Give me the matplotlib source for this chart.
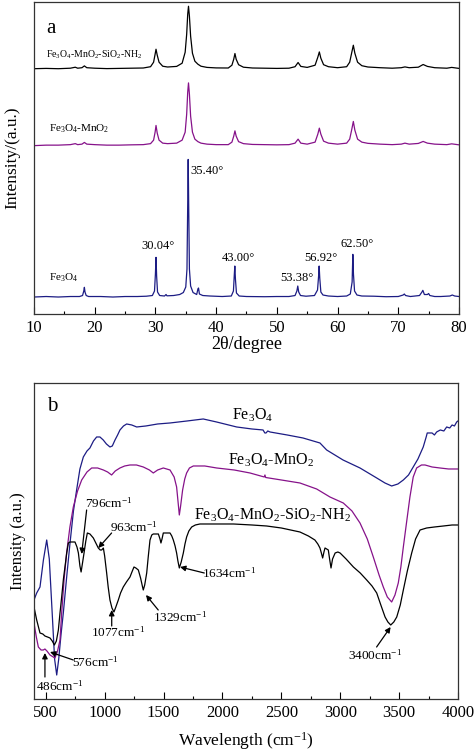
import matplotlib
matplotlib.use('Agg')
import matplotlib.pyplot as plt
from matplotlib.ticker import MultipleLocator

plt.rcParams['font.family'] = ['Liberation Serif', 'DejaVu Serif']
plt.rcParams['mathtext.fontset'] = 'custom'
plt.rcParams['mathtext.rm'] = 'Liberation Serif'
plt.rcParams['mathtext.it'] = 'Liberation Serif:italic'

# ---------------- XRD (a) ----------------
xrd_tt_fe = [10.0, 12, 14, 16, 17.5, 18.0, 18.2, 18.3, 18.4, 18.6, 19.0, 21, 23, 25, 27, 28.5, 29.5,
             29.85, 30.0, 30.1, 30.2, 30.35, 30.7, 31.5, 31.75, 31.9, 33, 34.0, 34.6, 35.0, 35.2,
             35.32, 35.4, 35.48, 35.6, 35.8, 36.2, 36.8, 37.0, 37.1, 37.25, 37.8, 39, 41, 42.5,
             42.85, 43.0, 43.08, 43.18, 43.35, 43.8, 45, 48, 50, 52, 53.0, 53.3, 53.45, 53.6, 53.9,
             54.8, 56.2, 56.7, 56.88, 56.97, 57.07, 57.25, 57.6, 58.5, 60, 61.5, 62.1, 62.4, 62.52,
             62.62, 62.8, 63.2, 64, 66, 68, 70, 70.8, 71.0, 71.2, 72, 73.5, 73.9, 74.05, 74.3, 74.8,
             75.0, 75.2, 76, 77, 78.5, 78.9, 79.3, 80]
xrd_fe = [17, 17.5, 17, 17.5, 17.5, 18.5, 23, 26.7, 22, 18.5, 17.5, 17.5, 17, 17.5, 17.5, 17.8, 18.5,
          23, 40, 56.7, 38, 22, 18.5, 18, 19.5, 18.2, 18.5, 19.5, 21.5, 27, 45,
          110, 154.7, 110, 45, 28, 21.5, 19.5, 25, 26, 20, 18.5, 18, 17.5, 18,
          23, 40, 48, 35, 21, 18, 17.5, 17.3, 17.5, 17.5, 18.5, 23, 28, 22, 18.5,
          17.8, 18.5, 24, 38, 48, 36, 22, 19, 18, 17.5, 18, 20, 32, 59.7,
          40, 23, 19, 18, 17.8, 17.3, 17.5, 19, 20, 18.5, 17.5, 18.5, 22, 23.7, 19.5, 19.5,
          20.5, 18.5, 17.5, 17.5, 18, 19, 18, 17.5]

xrd_tt = [10, 12, 14, 16, 16.8, 17.2, 17.9, 18.3, 18.7, 20, 22, 24, 26, 28, 29.2, 29.7, 29.95, 30.1,
          30.3, 30.6, 31.2, 32, 33.5, 34.4, 34.9, 35.15, 35.32, 35.45, 35.6, 35.8, 36.1, 36.5, 37.0,
          37.5, 38.5, 40, 42, 42.6, 42.9, 43.1, 43.3, 43.7, 44.5, 46, 48, 50, 52, 53.0, 53.5, 53.95,
          55, 56.3, 56.75, 57.0, 57.25, 57.7, 58.5, 60, 61.5, 62.0, 62.35, 62.6, 62.85, 63.3, 64, 65,
          67, 69, 70.5, 71.1, 71.8, 73.3, 74.1, 74.8, 76, 78, 78.8, 80]
xrd_mn = [168.5, 169, 169, 169.5, 170.5, 169.5, 170, 171.7, 170, 169.5, 169, 169, 169.3, 169.5, 170.5,
          174, 182, 188.7, 181, 174, 171, 170.5, 171, 174, 182, 200, 222, 231.3, 220, 198, 182, 175,
          172.5, 171, 170, 169.5, 169.5, 172, 178, 183.3, 178, 172.5, 170.5, 169.7, 169.5, 169.3,
          169.5, 171, 175, 171, 170, 172, 180, 186, 180, 173, 171, 170, 171, 175, 185, 192.7, 184,
          175, 172, 170.8, 170, 169.5, 170, 171, 170, 170.7, 172.7, 171, 170, 169.5, 170.3, 169.3]
xrd_si = [245.5, 245.8, 245.5, 246, 247, 246, 246.5, 248.3, 246.5, 246, 245.6, 245.8, 246, 246.2, 247.5,
          252, 260, 265, 259, 252, 248, 247.2, 247.8, 251, 262, 280, 300, 308, 298, 278, 261, 253,
          250, 248, 246.8, 246.3, 246.2, 249, 255, 260.7, 255, 249.5, 247, 246.2, 246, 245.8,
          246, 247.5, 251.7, 247.8, 246.8, 249, 257, 262.3, 256, 249.5, 247.5, 246.5, 247.5, 252, 262,
          269, 261, 252, 248.5, 247.2, 246.5, 246, 246.5, 247.3, 246.5, 247, 249.7, 247.8, 246.5, 246,
          246.8, 245.8]

peak_labels = ['30.04°', '35.40°', '43.00°', '53.38°', '56.92°', '62.50°']
peak_label_pos = [(30.5, 68), (35.7, 143), (43.6, 56), (53.3, 36), (57.2, 56), (63.3, 70)]

# ---------------- FTIR (b) ----------------
ir_fe_x = [400, 423, 451, 480, 508, 530, 555, 575, 593, 610, 630, 649, 680, 706, 735, 762, 790, 819,
           850, 875, 905, 932, 960, 988, 1015, 1045, 1065, 1088, 1110, 1130, 1160, 1187, 1230, 1272,
           1350, 1450, 1555, 1700, 1837, 1950, 2121, 2250, 2345, 2360, 2370, 2385, 2404, 2550, 2684,
           2828, 2885, 3024, 3168, 3310, 3380, 3437, 3490, 3536, 3580, 3620, 3660, 3705, 3730, 3739,
           3780, 3800, 3819, 3850, 3880, 3904, 3930, 3950, 3970, 3989, 4000]
ir_fe_y = [99, 106, 112, 139, 159, 140, 85, 40, 24, 40, 65, 86, 125, 156, 188, 209, 230, 242,
           248, 251, 258, 262, 262, 259, 255, 252, 253, 259, 264, 269, 273, 275, 274, 272,
           273, 275, 276, 278, 280, 277, 272, 270, 269, 266, 266, 268, 267, 264, 261,
           256, 249, 239, 231, 221, 216, 213, 215, 219, 224, 232, 240, 252, 262, 266,
           266, 264, 267, 269, 268, 272, 271, 274, 273, 277, 278]

ir_mn_x = [400, 420, 437, 460, 479, 493, 510, 536, 564, 578, 600, 621, 635, 656, 677, 705, 734, 770,
           805, 850, 890, 940, 989, 1025, 1059, 1090, 1130, 1170, 1215, 1270, 1328, 1380, 1413, 1450,
           1498, 1555, 1590, 1611, 1625, 1634, 1645, 1662, 1680, 1696, 1720, 1753, 1850, 1951, 2100,
           2234, 2355, 2361, 2367, 2500, 2658, 2800, 2913, 3026, 3100, 3168, 3230, 3281, 3330, 3366,
           3400, 3437, 3465, 3493, 3515, 3536, 3565, 3592, 3620, 3649, 3690, 3720, 3780, 3847, 3920,
           4000]
ir_mn_y = [76, 62, 52, 49, 49, 50, 48, 44, 42, 41, 48, 59, 86, 120, 146, 172, 192, 208,
           219, 227, 231, 231, 229, 227, 224, 228, 231, 233, 234, 234, 232, 229, 226, 229,
           231, 229, 222, 212, 195, 184, 193, 209, 220, 226, 231, 233, 233, 231, 229,
           226, 222, 224, 221.5, 219, 216, 210, 202, 196, 188, 176, 160, 142, 124, 112,
           102, 97, 104, 116, 132, 152, 178, 202, 222, 231, 234, 234, 232, 231, 230,
           230]

ir_si_x = [400, 423, 451, 475, 493, 515, 536, 555, 573, 590, 607, 620, 635, 650, 663, 678, 692, 706,
           725, 748, 765, 777, 790, 800, 812, 825, 840, 853, 875, 904, 925, 946, 962, 975, 989, 1000,
           1017, 1030, 1045, 1062, 1079, 1095, 1116, 1135, 1158, 1185, 1215, 1235, 1249, 1265, 1286,
           1305, 1320, 1328, 1340, 1357, 1370, 1385, 1400, 1413, 1440, 1456, 1470, 1478, 1487, 1498,
           1530, 1555, 1570, 1583, 1598, 1611, 1622, 1634, 1650, 1668, 1682, 1696, 1715, 1739, 1770,
           1809, 1950, 2093, 2250, 2375, 2500, 2658, 2730, 2785, 2810, 2828, 2840, 2851, 2862, 2871,
           2885, 2899, 2910, 2922, 2935, 2957, 2980, 2999, 3050, 3112, 3170, 3225, 3270, 3310, 3345,
           3381, 3405, 3429, 3455, 3480, 3510, 3536, 3570, 3607, 3640, 3678, 3734, 3800, 3876, 3950,
           4000]
ir_si_y = [92, 79, 66, 65, 63, 62, 61, 58, 54, 58, 69, 85, 102, 120, 132, 146, 156, 157,
           157, 157, 152, 146, 133, 127, 136, 146, 158, 166, 165, 161, 156, 151, 149, 149, 151, 143,
           126, 112, 99, 91, 87, 92, 99, 106, 112, 117, 122, 128, 132, 131, 129,
           121, 113, 109, 114, 126, 142, 159, 164, 165, 165, 165, 160, 156, 160, 166,
           166, 166, 163, 159, 153, 146, 138, 131, 137, 146, 155, 162, 168, 172, 174,
           175, 175, 175, 174, 173, 171, 167, 163, 159, 155, 151, 146, 141, 147, 151,
           150, 149, 140, 131, 140, 146, 147, 146, 140, 132, 126, 119, 113, 106, 94,
           82, 77, 74, 77, 82, 94, 109, 128, 146, 160, 169, 171, 172, 173, 174,
           174]

# label text, text centre (x, y), arrow tail (x, y), arrow tip (x, y)
ir_notes = [('796cm$^{-1}$', (1035, 196), (847, 189), (805, 145)),
            ('963cm$^{-1}$', (1249, 172), (1059, 166), (946, 151)),
            ('1077cm$^{-1}$', (1116, 67), (1060, 73), (1060, 89)),
            ('1329cm$^{-1}$', (1640, 82), (1455, 89), (1351, 104)),
            ('1634cm$^{-1}$', (2053, 126), (1846, 126), (1640, 132)),
            ('3400cm$^{-1}$', (3295, 44), (3309, 52), (3428, 72)),
            ('576cm$^{-1}$', (918, 37), (734, 39), (536, 47)),
            ('486cm$^{-1}$', (617, 13), (493, 22), (493, 46))]

blue = '#1c1c84'
purple = '#86128a'
lw = 0.9

fig = plt.figure(figsize=(4.74, 7.53), dpi=100)

# panel a
ax1 = fig.add_axes([0.0717, 0.583, 0.8966, 0.414])
ax1.plot(xrd_tt_fe, xrd_fe, color=blue, lw=lw)
ax1.plot(xrd_tt, xrd_mn, color=purple, lw=lw)
ax1.plot(xrd_tt, xrd_si, color='black', lw=lw)
ax1.set_xlim(10, 80)
ax1.set_ylim(0, 312)
ax1.set_yticks([])
ax1.xaxis.set_major_locator(MultipleLocator(10))
ax1.xaxis.set_minor_locator(MultipleLocator(5))
ax1.tick_params(axis='x', which='major', direction='in', length=5, width=0.8, labelsize=12, pad=4.5)
ax1.tick_params(axis='x', which='minor', direction='in', length=2.5, width=0.8)
ax1.set_xlabel('2θ/degree', fontsize=13, labelpad=0)
ax1.set_ylabel('Intensity/(a.u.)', fontsize=12.5, labelpad=10)
ax1.text(12.0, 286, 'a', fontsize=15, va='center')
ax1.text(12.5, 36, 'Fe$_3$O$_4$', fontsize=8, va='center')
ax1.text(12.5, 185, 'Fe$_3$O$_4$-MnO$_2$', fontsize=8, va='center')
ax1.text(12.0, 259, 'Fe$_3$O$_4$-MnO$_2$-SiO$_2$-NH$_2$', fontsize=7, va='center')
for lab, (px, py) in zip(peak_labels, peak_label_pos):
    ha = 'left' if lab == '35.40°' else 'center'
    ax1.text(px, py, lab, fontsize=9, va='center', ha=ha)
for s in ax1.spines.values():
    s.set_linewidth(0.9)
    s.set_color('#333333')

# panel b
ax2 = fig.add_axes([0.0717, 0.0717, 0.8945, 0.4197])
ax2.plot(ir_fe_x, ir_fe_y, color=blue, lw=lw)
ax2.plot(ir_mn_x, ir_mn_y, color=purple, lw=lw)
ax2.plot(ir_si_x, ir_si_y, color='black', lw=lw)
ax2.set_xlim(400, 4000)
ax2.set_ylim(0, 316)
ax2.set_yticks([])
ax2.xaxis.set_major_locator(MultipleLocator(500))
ax2.xaxis.set_minor_locator(MultipleLocator(250))
ax2.tick_params(axis='x', which='major', direction='in', length=5, width=0.8, labelsize=12, pad=4)
ax2.tick_params(axis='x', which='minor', direction='in', length=2.5, width=0.8)
ax2.set_xlabel('Wavelength (cm$^{-1}$)', fontsize=12.5, labelpad=7)
ax2.set_ylabel('Intensity (a.u.)', fontsize=12, labelpad=6)
ax2.text(510, 292, 'b', fontsize=15, va='center')
ax2.text(2259, 284, 'Fe$_3$O$_4$', fontsize=11.5, va='center', ha='center')
ax2.text(2416, 239, 'Fe$_3$O$_4$-MnO$_2$', fontsize=11.5, va='center', ha='center')
ax2.text(2425, 184, 'Fe$_3$O$_4$-MnO$_2$-SiO$_2$-NH$_2$', fontsize=11.5, va='center', ha='center')
for lab, tpos, tail, tip in ir_notes:
    ax2.text(tpos[0], tpos[1], lab, fontsize=9.5, ha='center', va='center')
    ax2.annotate('', xy=tip, xytext=tail,
                 arrowprops=dict(arrowstyle='-|>', color='black', lw=0.9,
                                 mutation_scale=8, shrinkA=0, shrinkB=0))
for s in ax2.spines.values():
    s.set_linewidth(0.9)
    s.set_color('#333333')

fig.savefig('out.png', dpi=100)
